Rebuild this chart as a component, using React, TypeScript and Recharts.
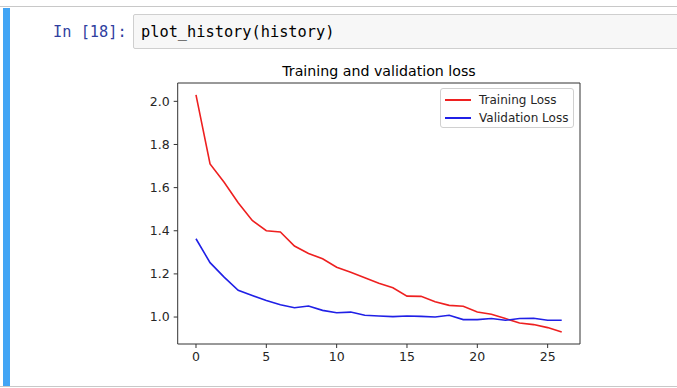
import React from 'react';
import { LineChart, Line, XAxis, YAxis, ReferenceArea, Legend } from 'recharts';

const epochs = [0, 1, 2, 3, 4, 5, 6, 7, 8, 9, 10, 11, 12, 13, 14, 15, 16, 17, 18, 19, 20, 21, 22, 23, 24, 25, 26];
const trainingLoss = [2.03, 1.71, 1.625, 1.53, 1.448, 1.4, 1.394, 1.329, 1.295, 1.27, 1.231, 1.208, 1.182, 1.157, 1.136, 1.097, 1.096, 1.071, 1.054, 1.05, 1.023, 1.013, 0.993, 0.972, 0.965, 0.951, 0.931];
const validationLoss = [1.363, 1.252, 1.185, 1.124, 1.1, 1.077, 1.057, 1.043, 1.051, 1.031, 1.02, 1.023, 1.008, 1.005, 1.002, 1.005, 1.003, 1.0, 1.008, 0.988, 0.988, 0.993, 0.985, 0.993, 0.994, 0.985, 0.985];
const xTicks = [0, 5, 10, 15, 20, 25];
const yTicks = [1.0, 1.2, 1.4, 1.6, 1.8, 2.0];
const seriesNames = ['Training Loss', 'Validation Loss'];
const chartTitle = 'Training and validation loss';
const promptText = 'In [18]:';
const codeText = 'plot_history(history)';

const data = epochs.map((e, i) => ({ epoch: e, training: trainingLoss[i], validation: validationLoss[i] }));

const RED = '#ee2020';
const BLUE = '#2020e6';
const FONT = '"DejaVu Sans", sans-serif';
const MONO = '"DejaVu Sans Mono", "Liberation Mono", monospace';

const X_DOMAIN: [number, number] = [-1.3, 27.3];
const Y_DOMAIN: [number, number] = [0.875, 2.085];

const LEGEND_H = 40;

const renderLegend = () => (
  <div style={{ position: 'relative', width: 677, height: LEGEND_H }}>
    <div
      style={{
        position: 'absolute',
        left: 440,
        top: 88,
        boxSizing: 'border-box',
        width: 134,
        height: 40,
        border: '1px solid #d0d0d0',
        borderRadius: 3,
        background: 'rgba(255,255,255,0.8)',
        fontFamily: FONT,
        fontSize: 12,
        color: '#262626',
        paddingTop: 2,
      }}
    >
      {seriesNames.map((name, i) => (
        <div key={name} style={{ display: 'flex', alignItems: 'center', height: 18 }}>
          <div style={{ marginLeft: 4, width: 26, height: 2, background: i === 0 ? RED : BLUE }} />
          <span style={{ marginLeft: 8, whiteSpace: 'nowrap' }}>{name}</span>
        </div>
      ))}
    </div>
  </div>
);

export default function App() {
  return (
    <div style={{ position: 'absolute', left: 0, top: 0, width: 677, height: 388, background: '#fff', overflow: 'hidden' }}>
      <div style={{ position: 'absolute', left: 0, top: 6, width: 677, height: 1, background: '#c8c8c8' }} />
      <div style={{ position: 'absolute', left: 3, top: 8, width: 7, height: 378, background: '#42a5f5' }} />
      <div style={{ position: 'absolute', left: 0, top: 386, width: 677, height: 1, background: '#c8c8c8' }} />
      <div
        style={{
          position: 'absolute', left: 53, top: 22, fontFamily: MONO, fontSize: 15.3, lineHeight: '20px', color: '#303f9f', whiteSpace: 'pre',
        }}
      >
        {promptText}
      </div>
      <div
        style={{
          position: 'absolute', left: 133, top: 14, width: 560, height: 35, boxSizing: 'border-box',
          background: '#f7f7f7', border: '1px solid #cfcfcf', borderRadius: 2,
        }}
      />
      <div
        style={{
          position: 'absolute', left: 141, top: 22, fontFamily: MONO, fontSize: 15.3, lineHeight: '20px', color: '#000', whiteSpace: 'pre',
        }}
      >
        {codeText}
      </div>
      <div
        style={{
          position: 'absolute', left: 178, width: 402, top: 62, textAlign: 'center', fontFamily: FONT, fontSize: 14.2, lineHeight: '18px', color: '#000',
        }}
      >
        {chartTitle}
      </div>
      <div style={{ position: 'absolute', left: 0, top: 0 }}>
        <LineChart width={677} height={388} data={data} margin={{ top: 83 - LEGEND_H, right: 97, bottom: 14, left: 137.7 }}>
          <XAxis
            dataKey="epoch"
            type="number"
            domain={X_DOMAIN}
            ticks={xTicks}
            allowDataOverflow
            interval={0}
            height={30}
            axisLine={false}
            tickSize={4}
            tickMargin={4}
            tickLine={{ stroke: '#333' }}
            tick={{ fill: '#262626', fontSize: 12.5, fontFamily: FONT }}
          />
          <YAxis
            type="number"
            domain={Y_DOMAIN}
            ticks={yTicks}
            allowDataOverflow
            interval={0}
            width={40}
            axisLine={false}
            tickSize={4}
            tickMargin={4}
            tickLine={{ stroke: '#333' }}
            tick={{ fill: '#262626', fontSize: 12.5, fontFamily: FONT }}
            tickFormatter={(v: number) => v.toFixed(1)}
          />
          <ReferenceArea
            x1={X_DOMAIN[0]}
            x2={X_DOMAIN[1]}
            y1={Y_DOMAIN[0]}
            y2={Y_DOMAIN[1]}
            fill="none"
            fillOpacity={0}
            stroke="#333"
            strokeWidth={1}
            ifOverflow="visible"
          />
          <Line type="linear" dataKey="training" name={seriesNames[0]} stroke={RED} strokeWidth={1.6} dot={false} isAnimationActive={false} />
          <Line type="linear" dataKey="validation" name={seriesNames[1]} stroke={BLUE} strokeWidth={1.6} dot={false} isAnimationActive={false} />
          <Legend
            verticalAlign="top"
            align="left"
            layout="horizontal"
            content={renderLegend}
            wrapperStyle={{ position: 'absolute', left: 0, top: 0, width: 677, height: LEGEND_H, margin: 0 }}
          />
        </LineChart>
      </div>
    </div>
  );
}
